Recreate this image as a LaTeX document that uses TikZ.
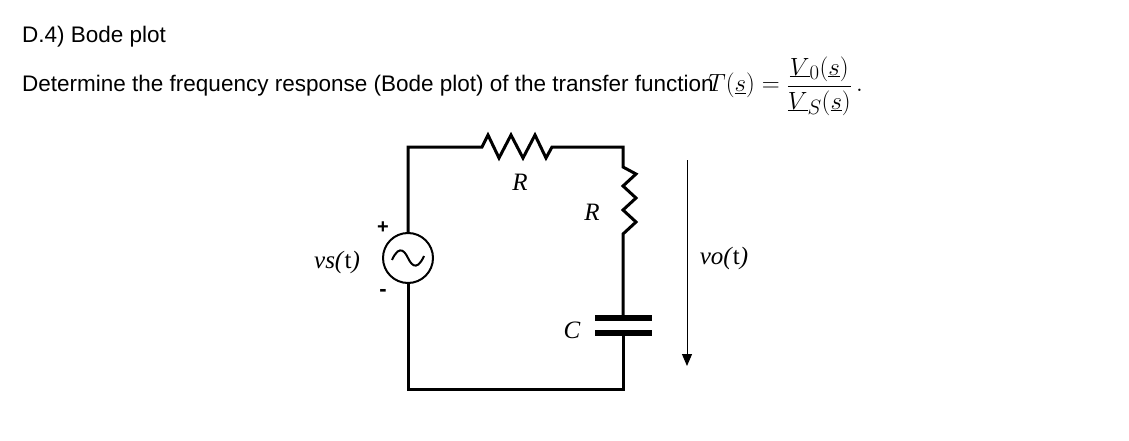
\documentclass[tikz,border=0pt]{standalone}
\usepackage{fontspec}
\setmainfont{Liberation Sans}
\newfontfamily\tms{Liberation Serif}
\usetikzlibrary{arrows.meta}
\begin{document}
\begin{tikzpicture}[x=1pt,y=-1pt,
  wire/.style={line width=3pt},
  lbl/.style={font=\tms\itshape\fontsize{25}{25}\selectfont},
  txt/.style={font=\fontsize{22.5}{22.5}\selectfont,anchor=base west,inner sep=0}]
\useasboundingbox (0,0) rectangle (1129,441);
\node[txt] (title) at (22,43) {D.4) Bode plot};
\node[txt] (q) at (22,92) {Determine the frequency response (Bode plot) of the transfer function};
\node[anchor=base west,inner sep=0,font=\fontsize{29}{29}\selectfont] (tf) at (708,92)
 {$\displaystyle T(\underline{s})=\frac{\underline{V}_0(\underline{s})}{\underline{V}_S(\underline{s})}\,.$};
% circuit
\coordinate (tl) at (408,147);
\coordinate (tr) at (623,147);
\coordinate (bl) at (408,389);
\coordinate (br) at (623,389);
\node[circle,draw,line width=2pt,minimum size=50pt,inner sep=0] (src) at (408,258) {};
\draw[line width=2pt] (392,260) .. controls (400,242) and (406,254) .. (408,258)
  .. controls (410,262) and (416,274) .. (424,256);
\draw[wire] (src.north) -- (tl) -- (482,147)
  -- (488,135) -- (499,158) -- (511,135) -- (523,158) -- (535,135) -- (546,158) -- (552,147)
  -- (tr) -- (623,167)
  -- (636,174) -- (623,186) -- (636,198) -- (623,210) -- (636,222) -- (623,234) -- (623,238)
  -- (623,318);
\draw[line width=6pt] (595,318) -- (652,318);
\draw[line width=6pt] (595,333) -- (652,333);
\coordinate (c2) at (623,333);
\draw[wire] (c2) -- (br) -- (bl) -- (src.south);
\node[font=\bfseries\fontsize{20}{20}\selectfont] (plus) at (383,228) {+};
\node[font=\bfseries\fontsize{22}{22}\selectfont] (minus) at (383,293) {-};
\node[lbl] (vs) at (337,262) {vs(\textup{t})};
\node[lbl] (rt) at (520,182) {R};
\node[lbl] (rr) at (592,212) {R};
\node[lbl] (cc) at (572,330) {C};
\node[lbl] (vo) at (724,258) {vo(\textup{t})};
\coordinate (a1) at (687,160);
\coordinate (a2) at (687,366);
\draw[line width=1pt,-{Triangle[length=12pt,width=10pt]}] (a1) -- (a2);
\end{tikzpicture}
\end{document}
